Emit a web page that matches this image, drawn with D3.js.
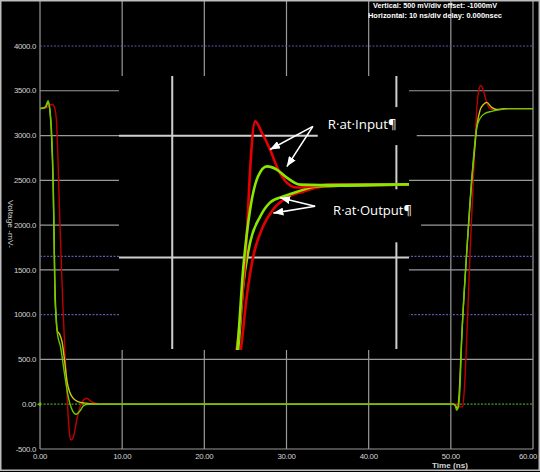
<!DOCTYPE html>
<html>
<head>
<meta charset="utf-8">
<script src="https://cdn.jsdelivr.net/npm/d3@7"></script>
<style>
  html, body { margin: 0; padding: 0; background: #000; }
  svg { display: block; }
</style>
</head>
<body>
<svg id="chart" width="540" height="472"></svg>
<script>
// ---------------- DATA ----------------
const xTicks = [0, 10, 20, 30, 40, 50, 60];
const xTickLabels = ["0.00", "10.00", "20.00", "30.00", "40.00", "50.00", "60.00"];
const yTicks = [4000, 3500, 3000, 2500, 2000, 1500, 1000, 500, 0, -500];
const yTickLabels = ["4000.0", "3500.0", "3000.0", "2500.0", "2000.0", "1500.0", "1000.0", "500.0", "0.00", "-500.0"];
const cursorLevels = [4000, 1650, 1000];   // dotted blue cursor lines
const zeroLevel = 0;

// main traces: [time ns, voltage mV]
const redTrace = [[0,3300],[0.8,3310],[1.5,3350],[1.8,3300],[2.0,3170],[2.2,2700],[2.43,2000],[2.76,1160],[3.04,570],[3.25,190],[3.44,-145],[3.65,-370],[3.77,-400],[4.05,-370],[4.47,-180],[4.87,-30],[5.27,45],[5.68,67],[6.29,25],[6.9,10],[7.67,0],
  [50.6,0],[50.9,-10],[51.1,-30],[51.44,-30],[51.64,160],[51.93,715],[52.3,1600],[52.73,2500],[52.94,2910],[53.15,3281],[53.46,3527],[53.67,3560],[53.95,3505],[54.36,3370],[54.76,3300],[55.37,3281],[55.98,3290],[57,3300],[60,3300]];
const yellowTrace = [[0,3300],[0.7,3320],[1.0,3370],[1.2,3280],[1.4,3000],[1.6,2450],[1.8,1400],[2.1,820],[2.4,780],[2.7,690],[3.0,480],[3.3,250],[3.6,140],[4.0,70],[4.6,30],[5.5,12],[7.2,0],
  [50.3,0],[50.6,-20],[50.8,-50],[51.0,100],[51.3,700],[51.9,1650],[52.54,2500],[52.9,2850],[53.15,3091],[53.55,3281],[54.0,3350],[54.36,3370],[54.97,3315],[55.58,3290],[56.5,3300],[60,3300]];
const greenTrace = [[0,3300],[0.6,3310],[1.0,3390],[1.2,3290],[1.4,3060],[1.6,2500],[1.7,2000],[1.75,1600],[1.83,1160],[1.95,1000],[2.1,800],[2.5,640],[3.0,330],[3.4,100],[3.8,-40],[4.2,-105],[4.4,-112],[4.9,-70],[5.3,-15],[5.9,0],
  [50.3,0],[50.5,-5],[50.7,-67],[50.9,-40],[51.1,160],[51.32,715],[51.9,1650],[52.54,2500],[52.73,2723],[53.15,3091],[53.55,3190],[54.16,3247],[54.97,3270],[55.98,3290],[57,3300],[60,3300]];

// inset (zoom of rising edge)
const insetXGrid = [52, 60];
const insetYGrid = [3000, 3500];
const insetRedInput = [[54.2,2550],[54.3,2623],[54.48,2816],[54.66,3086],[54.78,3361],[54.96,3559],[55.2,3512],[55.49,3443],[55.78,3361],[56.09,3307],[56.45,3287],[56.92,3291],[57.64,3299],[60.45,3300]];
const insetGreenInput = [[54.22,2550],[54.32,2623],[54.53,2951],[54.78,3197],[55.06,3332],[55.38,3374],[55.73,3361],[56.09,3328],[56.56,3299],[57.28,3297],[60.45,3300]];
const insetGreenOutput = [[54.25,2550],[54.35,2623],[54.53,2881],[54.78,3061],[55.14,3168],[55.49,3225],[55.96,3250],[56.46,3270],[57.17,3291],[58.24,3295],[60.45,3300]];
const insetRedOutput = [[54.35,2550],[54.45,2623],[54.66,2840],[54.89,3004],[55.24,3127],[55.6,3197],[56.1,3246],[56.67,3270],[57.39,3291],[58.24,3295],[60.45,3300]];
const labelInput = "R·at·Input¶";
const labelOutput = "R·at·Output¶";
// annotation arrows in inset data coords
const inputArrowFrom = [57.02, 3538];
const inputArrowTo = [[55.49, 3443], [56.09, 3373]];
const outputArrowFrom = [57.1, 3210];
const outputArrowTo = [[55.85, 3245], [55.61, 3182]];
const inputLabelPos = [57.55, 3527];
const outputLabelPos = [57.74, 3173];

const headerLines = ["Vertical: 500 mV/div  offset: -1000mV", "Horizontal: 10 ns/div  delay: 0.000nsec"];
const yTitle = "Voltage  -mV-";
const xTitle = "Time  (ns)";

// ---------------- DRAW ----------------
const svg = d3.select("#chart");
const W = 540, H = 472;
svg.append("rect").attr("width", W).attr("height", H).attr("fill", "#000");

const x = d3.scaleLinear().domain([0, 60]).range([40, 533]);
const y = d3.scaleLinear().domain([-500, 4500]).range([449, 1.2]);
const plotTop = 0, plotBottom = y(-500);

const grid = svg.append("g");
grid.selectAll("line.v").data(xTicks).join("line")
  .attr("x1", d => x(d)).attr("x2", d => x(d))
  .attr("y1", plotTop).attr("y2", plotBottom)
  .attr("stroke", "#9a9a9a").attr("stroke-width", 1.2);
grid.selectAll("line.h").data(yTicks.filter(v => !cursorLevels.includes(v) && v !== zeroLevel)).join("line")
  .attr("x1", x(0)).attr("x2", x(60))
  .attr("y1", d => y(d)).attr("y2", d => y(d))
  .attr("stroke", "#9a9a9a").attr("stroke-width", 1.2);
grid.selectAll("line.c").data(cursorLevels).join("line")
  .attr("x1", x(0)).attr("x2", x(60))
  .attr("y1", d => y(d)).attr("y2", d => y(d))
  .attr("stroke", "#5a5aa8").attr("stroke-width", 1.2).attr("stroke-dasharray", "2,1.5");
grid.append("line")
  .attr("x1", x(0)).attr("x2", x(60)).attr("y1", y(zeroLevel)).attr("y2", y(zeroLevel))
  .attr("stroke", "#4f9a2a").attr("stroke-width", 1.2).attr("stroke-dasharray", "2,1.5");
svg.append("path")
  .attr("d", `M${x(0)-3},${y(0)} L${x(0)+1},${y(0)-2.5} L${x(0)+1},${y(0)+2.5} Z`)
  .attr("fill", "#5fc020");

const line = d3.line().x(d => x(d[0])).y(d => y(d[1])).curve(d3.curveMonotoneX);
const traces = [
  { data: redTrace, color: "#c00000" },
  { data: yellowTrace, color: "#c8cc10" },
  { data: greenTrace, color: "#6cc800" }
];
svg.append("g").selectAll("path").data(traces).join("path")
  .attr("d", d => line(d.data))
  .attr("fill", "none").attr("stroke", d => d.color).attr("stroke-width", 1.4);

// ---------------- INSET ----------------
const ix = d3.scaleLinear().domain([50.1, 60.45]).range([119, 409]);
const iy = d3.scaleLinear().domain([2620, 3745]).range([350, 76]);
const inset = svg.append("g");
inset.append("rect")
  .attr("x", ix.range()[0]).attr("y", iy.range()[1])
  .attr("width", ix.range()[1] - ix.range()[0]).attr("height", iy.range()[0] - iy.range()[1])
  .attr("fill", "#000");
svg.append("clipPath").attr("id", "insetClip").append("rect")
  .attr("x", ix.range()[0]).attr("y", iy.range()[1])
  .attr("width", ix.range()[1] - ix.range()[0]).attr("height", iy.range()[0] - iy.range()[1]);
inset.selectAll("line.iv").data(insetXGrid).join("line")
  .attr("x1", d => ix(d)).attr("x2", d => ix(d))
  .attr("y1", iy.range()[1]).attr("y2", iy.range()[0] - 1)
  .attr("stroke", "#cfcfcf").attr("stroke-width", 2);
inset.selectAll("line.ih").data(insetYGrid).join("line")
  .attr("x1", ix.range()[0]).attr("x2", ix.range()[1])
  .attr("y1", d => iy(d)).attr("y2", d => iy(d))
  .attr("stroke", "#cfcfcf").attr("stroke-width", 2);

const iline = d3.line().x(d => ix(d[0])).y(d => iy(d[1])).curve(d3.curveMonotoneX);
const insetTraces = [
  { data: insetRedOutput, color: "#e00000" },
  { data: insetGreenOutput, color: "#8ae800" },
  { data: insetRedInput, color: "#e80000" },
  { data: insetGreenInput, color: "#8ae800" }
];
inset.append("g").attr("clip-path", "url(#insetClip)")
  .selectAll("path").data(insetTraces).join("path")
  .attr("d", d => iline(d.data))
  .attr("fill", "none").attr("stroke", d => d.color).attr("stroke-width", 2.6);

function label(text, pos, width, pad) {
  const g = inset.append("g");
  const bx = ix(pos[0]), by = iy(pos[1]);
  g.append("rect")
    .attr("x", bx - pad[3]).attr("y", by - 10 - pad[0])
    .attr("width", width + pad[1] + pad[3]).attr("height", 10 + pad[0] + pad[2])
    .attr("fill", "#000");
  g.append("text").attr("x", bx).attr("y", by)
    .attr("fill", "#ffffff").attr("font-family", "'Open Sans', 'Noto Sans', sans-serif")
    .attr("font-size", 13.5)
    .attr("textLength", width).attr("lengthAdjust", "spacingAndGlyphs")
    .text(text);
}
label(labelInput, inputLabelPos, 69, [12, 20, 16, 10]);
label(labelOutput, outputLabelPos, 79, [16, 9, 27, 11]);

svg.append("defs").append("marker")
  .attr("id", "ah").attr("viewBox", "0 0 10 8").attr("refX", 10).attr("refY", 4)
  .attr("markerWidth", 10).attr("markerHeight", 8).attr("markerUnits", "userSpaceOnUse")
  .attr("orient", "auto")
  .append("path").attr("d", "M0,0 L10,4 L0,8 Z").attr("fill", "#ffffff");
const arrows = [
  ...inputArrowTo.map(t => [inputArrowFrom, t]),
  ...outputArrowTo.map(t => [outputArrowFrom, t])
];
inset.selectAll("line.arr").data(arrows).join("line")
  .attr("x1", d => ix(d[0][0])).attr("y1", d => iy(d[0][1]))
  .attr("x2", d => ix(d[1][0])).attr("y2", d => iy(d[1][1]))
  .attr("stroke", "#ffffff").attr("stroke-width", 1.6)
  .attr("marker-end", "url(#ah)");

// ---------------- AXIS TEXT ----------------
const tickFont = "'Liberation Sans', Arial, sans-serif";
svg.append("g").selectAll("text").data(yTicks).join("text")
  .attr("x", 36).attr("y", d => y(d)).attr("dy", "0.35em")
  .attr("text-anchor", "end").attr("fill", "#d4d4d4")
  .attr("font-family", tickFont).attr("font-size", 7.8).attr("letter-spacing", -0.3)
  .text((d, i) => yTickLabels[i]);
svg.append("g").selectAll("text").data(xTicks).join("text")
  .attr("x", (d, i) => i === xTicks.length - 1 ? W - 3 : x(d)).attr("y", 459)
  .attr("text-anchor", (d, i) => i === xTicks.length - 1 ? "end" : "middle").attr("fill", "#d4d4d4")
  .attr("font-family", tickFont).attr("font-size", 7.8).attr("letter-spacing", -0.3)
  .text((d, i) => xTickLabels[i]);
svg.append("text")
  .attr("x", 450).attr("y", 467.5).attr("text-anchor", "middle")
  .attr("fill", "#d4d4d4").attr("font-family", tickFont).attr("font-size", 8).attr("font-weight", "bold")
  .attr("textLength", 36).attr("lengthAdjust", "spacingAndGlyphs")
  .text(xTitle);
svg.append("text")
  .attr("transform", "translate(8,224) rotate(90)")
  .attr("text-anchor", "middle")
  .attr("fill", "#d4d4d4").attr("font-family", tickFont).attr("font-size", 7.8)
  .attr("textLength", 48).attr("lengthAdjust", "spacingAndGlyphs")
  .text(yTitle);

const headerX = [373, 368], headerW = [124, 134], headerY = [8, 17.5];
svg.append("g").selectAll("text").data(headerLines).join("text")
  .attr("x", (d, i) => headerX[i]).attr("y", (d, i) => headerY[i])
  .attr("fill", "#ffffff").attr("font-family", tickFont).attr("font-size", 8).attr("font-weight", "bold")
  .attr("textLength", (d, i) => headerW[i]).attr("lengthAdjust", "spacingAndGlyphs")
  .text(d => d);

svg.append("rect").attr("x", 0.75).attr("y", 0.75).attr("width", W - 1.5).attr("height", H - 2.5)
  .attr("fill", "none").attr("stroke", "#bdbdbd").attr("stroke-width", 1.5);
</script>
</body>
</html>
